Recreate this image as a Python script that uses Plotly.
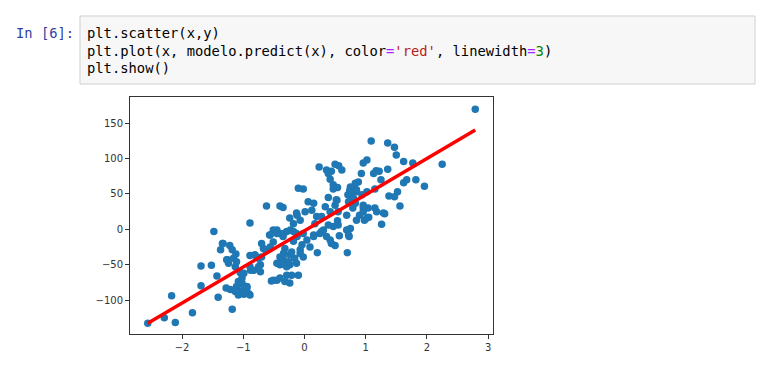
import plotly.graph_objects as go

# ---- data ----
x_vals = [
    -2.56, -2.29, -2.11, -2.17, -1.83, -1.69, -1.69, -1.52, -1.48, -1.43,
    -1.41, -1.34, -1.37, -1.22, -1.18, -1.26, -1.12, -1.18, -1.28, -1.21,
    -1.10, -1.06, -0.99, -0.94, -0.91, -1.08, -1.13, -1.05, -0.99, -0.89,
    -0.89, -0.88, -0.78, -0.72, -0.72, -0.70, -0.67, -0.62, -0.54, -0.57,
    -0.45, -0.40, -0.35, -0.45, -0.40, -0.35, -0.40, -0.40, -0.35, -0.32,
    -0.29, -0.24, -0.24, -0.18, -0.18, -0.13, -0.10, -0.21, -0.16, -0.24,
    -0.13, -0.29, -0.10,
    2.79, 2.25, 1.96, 1.82, 1.77, 1.62, 1.67, 1.62, 1.50, 1.47,
    1.36, 1.09, 1.02, 0.96, 0.93, 0.88, 1.36, 1.17, 1.22, 1.25,
    1.15, 1.52, 1.47, 1.38, 1.56, 1.31, 1.26, 1.05, 0.98, 0.90,
    0.96, 0.85, 0.79, 0.77, 0.71, 0.74, 0.85, 0.79, 0.69, 0.73,
    0.70, 0.57, 0.50, 0.44, 0.54, 0.50, 0.52, 0.54, 0.61, 0.56,
    0.50, 0.42, 0.44, 0.36, 0.24, 0.47, 0.39, 0.34, 0.42, 0.28,
    0.39, 0.31, 0.25, 0.36, 0.42, 0.21, 0.09, 0.04, -0.02, -0.02,
    0.01, 0.06, 0.15, 0.12, 0.17, 0.20, -0.07, -0.12, -0.23, -0.12,
    -0.04, -0.07, -0.21,
    0.39, -0.51, -0.34, -0.18, 0.15, 0.28, -0.45, -0.29, -0.13, 0.15,
    -0.34, -0.24, -0.40, -0.32, -0.26, -0.51, -0.40, -0.32, -0.07, -0.02,
    1.13, 0.47, 0.75, 0.83, 0.85, 0.94, 1.02, 0.75, 0.80, 0.72,
    0.83, 0.96, 1.04, 0.96, 1.02, 1.15, 1.18, 1.29, 0.53, 0.55,
    0.47, 0.55, 0.69, 0.75, 0.72, -1.33, -1.27, -1.24, -1.11, -1.16,
    -0.81, -0.75, -0.70, -0.89, -0.83, -0.75, -0.64, -0.56, -0.51, -0.56,
    -0.45, -1.11, -1.13, -1.02, -1.00, -0.94, -0.89, -1.08, -1.02,
]
y_vals = [
    -133, -125, -132, -94, -118, -52, -80, -51, -3, -66,
    -96, -20, -29, -23, -29, -43, -35, -113, -83, -85,
    -86, -77, -92, -81, -91, -93, -53, -61, -62, 9,
    -37, -58, -39, -50, -60, -20, -27, 33, -73, -8,
    -72, 33, 31, -1, -6, -10, -39, -50, -41, -27,
    -65, -76, 16, 8, -17, 23, 58, -32, -41, -50,
    -48, -53, -65,
    170, 92, 61, 70, 94, 96, 70, 66, 105, 116,
    122, 125, 98, 94, 79, 67, 85, 83, 82, 70,
    57, 53, 46, 47, 33, 22, 7, 17, 13, 20,
    30, 13, 30, 42, 49, 55, 56, 58, 20, -10,
    -33, -9, -23, -20, 12, 34, 42, 59, 84, 90,
    92, 71, 82, 84, 88, 57, 45, 32, 25, 18,
    6, -1, -6, -10, -15, -33, -25, -15, -6, 57,
    25, 39, 37, 27, 8, 18, 13, 20, -1, -10,
    -22, -29, -65,
    79, -1, -6, -3, -8, -3, -6, -3, -6, -10,
    -34, -36, -48, -50, -46, -72, -69, -74, -34, -39,
    79, 63, 60, 65, 53, 49, 53, 51, 44, 39,
    37, 34, 30, 25, 16, 30, 25, 23, 41, 25,
    4, 6, -1, 1, -8, -20, -43, -48, -46, -41,
    -36, -41, -39, -53, -58, -53, -29, -25, -18, -8,
    -48, -81, -88, -76, -86, -83, -93, -74, -69,
]

# fitted line end points (model.predict)
line_x = [-2.56, 2.79]
line_y = [-133, 140.6]

x_ticks = [-2, -1, 0, 1, 2, 3]
y_ticks = [-100, -50, 0, 50, 100, 150]

# page has an 8px body margin: the figure starts at (8, 8)
OFF = 8
W, H = 768 - OFF, 373 - OFF

fig = go.Figure()
fig.add_trace(go.Scatter(
    x=x_vals, y=y_vals, mode="markers",
    marker=dict(color="#1f77b4", size=7.5, line=dict(width=0)),
    hoverinfo="skip", showlegend=False,
))
fig.add_trace(go.Scatter(
    x=line_x, y=line_y, mode="lines",
    line=dict(color="red", width=3.5),
    hoverinfo="skip", showlegend=False,
))


def px_x(p):
    return (p - OFF) / W


def px_y(p):
    return 1 - (p - OFF) / H


axis_common = dict(
    showgrid=False, zeroline=False, showline=True, mirror=True,
    linecolor="#333333", linewidth=1, ticks="outside", ticklen=4,
    tickcolor="#333333", tickwidth=1,
    tickfont=dict(family="DejaVu Sans", size=10, color="#333333"),
)

fig.update_layout(
    width=W, height=H,
    margin=dict(l=0, r=0, t=0, b=0),
    paper_bgcolor="white", plot_bgcolor="white",
    xaxis=dict(domain=[px_x(130), px_x(493)], range=[-2.85, 3.08],
               tickvals=x_ticks, **axis_common),
    yaxis=dict(domain=[px_y(334), px_y(97)], range=[-148.1, 187.2],
               tickvals=y_ticks, **axis_common),
)

# code cell box
fig.add_shape(type="rect", xref="paper", yref="paper",
              x0=px_x(80), x1=px_x(755), y0=px_y(84), y1=px_y(16),
              fillcolor="#f7f7f7", line=dict(color="#cfcfcf", width=1),
              layer="below")

mono = dict(family="DejaVu Sans Mono", size=13.8, color="#000000")
fig.add_annotation(xref="paper", yref="paper", x=px_x(14), y=px_y(33),
                   xanchor="left", yanchor="middle", showarrow=False,
                   text="In [6]:", font=dict(family="DejaVu Sans Mono",
                                             size=13.8, color="#303F9F"))
code_lines = [
    "plt.scatter(x,y)",
    "plt.plot(x, modelo.predict(x), color<span style='color:#AA22FF'>=</span>"
    "<span style='color:#BA2121'>'red'</span>, linewidth"
    "<span style='color:#AA22FF'>=</span><span style='color:#008800'>3</span>)",
    "plt.show()",
]
for i, t in enumerate(code_lines):
    fig.add_annotation(xref="paper", yref="paper", x=px_x(85),
                       y=px_y(33 + 17.5 * i), xanchor="left",
                       yanchor="middle", showarrow=False, text=t, font=mono)

fig.write_html("out.html")
